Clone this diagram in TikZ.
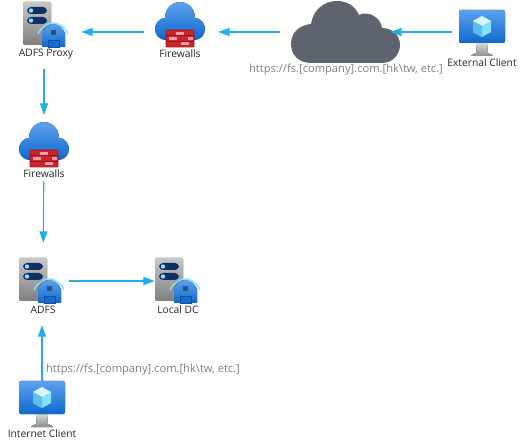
\documentclass[tikz,border=0pt]{standalone}
\usepackage{fontspec}
\setmainfont{Open Sans}
\usepackage{xcolor}
\usetikzlibrary{positioning,arrows.meta,calc}
\definecolor{wire}{HTML}{22AEE4}
\definecolor{urlgray}{HTML}{808080}
\definecolor{netgray}{HTML}{5E646E}
\definecolor{navy}{HTML}{0F2F66}
\definecolor{skyd}{HTML}{5EA0EF}
\definecolor{azure}{HTML}{0F68CC}
\definecolor{bluedark}{HTML}{1B63C4}
\definecolor{ice}{HTML}{7FE3FA}
\definecolor{brick}{HTML}{CF232B}
\definecolor{brickd}{HTML}{8E1B20}
\definecolor{brickl}{HTML}{F59AA6}
\tikzset{
  iconbox/.style 2 args={inner sep=0pt, minimum width=#1*0.75pt, minimum height=#2*0.75pt},
  icontext/.style={inner sep=0pt, font=\fontsize{7.7}{9}\selectfont, text=black!85},
  urltext/.style={inner sep=0pt, font=\fontsize{8.35}{10}\selectfont, text=urlgray},
  flow/.style={-{Triangle[length=8.5pt,width=6pt]}, line width=0.85pt, draw=wire},
  % server rack with the small barn in front, from its top left corner
  serverico/.pic={
    \fill[rounded corners=1pt, top color=black!22, bottom color=black!50] (0,0) rectangle (28,43);
    \fill[navy, rounded corners=3pt] (4,5) rectangle (24,12);
    \fill[navy, rounded corners=3pt] (4,15) rectangle (24,22);
    \fill[ice] (8,8.5) circle (2.2);
    \fill[ice] (8,18.5) circle (2.2);
    \fill[top color=skyd, bottom color=azure] (19,45) -- (19,31) .. controls (21,25) and (26,22) .. (30,22)
      .. controls (35,22) and (40,26) .. (42,31) -- (42,45) -- cycle;
    \draw[ice, line width=1pt] (15,32) .. controls (18,25) and (25,21) .. (30,21) .. controls (36,21) and (42,25) .. (45,32);
    \fill[navy!85] (28,28) rectangle (33,33);
    \draw[navy!45!azure, line width=0.4pt] (25,38) rectangle (36,45);
    \draw[navy!45!azure, line width=0.4pt] (25,38) -- (30.5,42) -- (36,38);
  },
  % blue cloud with the brick wall
  fwico/.pic={
    \fill[top color=skyd, bottom color=azure] (11,39) .. controls (5,39) and (0,34) .. (0,28)
      .. controls (0,22) and (5,17) .. (10,17) .. controls (10,8) and (17,1) .. (25,1)
      .. controls (33,1) and (40,8) .. (40,17) .. controls (45,17) and (50,22) .. (50,28)
      .. controls (50,34) and (45,39) .. (39,39) -- cycle;
    \draw[brickd, fill=brick, line width=0.7pt, rounded corners=0.5pt] (11,29) rectangle (39,46);
    \fill[brickl] (21,31) rectangle (29,34);
    \fill[brickl] (14,36) rectangle (22,39);
    \fill[brickl] (26,41) rectangle (34,44);
    \fill[brickl] (33,36) rectangle (38,39);
    \foreach \yy in {34.5,40} \draw[brickd, line width=0.4pt] (11,\yy) -- (39,\yy);
  },
  % monitor with the cube
  vmico/.pic={
    \fill[top color=black!15, bottom color=black!45] (18,33) -- (28,33) -- (29,43) .. controls (31,44) and (34,45) .. (34,46)
      -- (12,46) .. controls (12,45) and (15,44) .. (17,43) -- cycle;
    \fill[rounded corners=1.5pt, top color=skyd, bottom color=azure] (0,0) rectangle (46,33);
    \fill[ice] (23,6) -- (32,11) -- (32,22) -- (23,27) -- (14,22) -- (14,11) -- cycle;
    \fill[white!70!ice] (23,6) -- (32,11) -- (23,16) -- (14,11) -- cycle;
    \fill[ice!70!azure] (23,16) -- (23,27) -- (14,22) -- (14,11) -- cycle;
  },
  netcloud/.pic={
    \fill[netgray] (20,63) .. controls (8,63) and (0,55) .. (0,44) .. controls (0,33) and (8,25) .. (20,24)
      .. controls (22,10) and (33,1) .. (46,1) .. controls (56,1) and (64,6) .. (68,15)
      .. controls (78,10) and (90,18) .. (91,28) .. controls (101,28) and (109,35) .. (109,45)
      .. controls (109,55) and (101,63) .. (91,63) -- cycle;
  },
}
\begin{document}
\begin{tikzpicture}[x=0.75pt, y=-0.75pt]
  \useasboundingbox (0,0) rectangle (524,448);
  \pic at (23,2) {serverico};
  \pic at (155,1) {fwico};
  \pic at (291,0) {netcloud};
  \pic at (459,10) {vmico};
  \pic at (19,121) {fwico};
  \pic at (19,258) {serverico};
  \pic at (155,258) {serverico};
  \pic at (19,381) {vmico};
  \node[iconbox={74}{74}] (proxy) at (44,32) {};
  \node[iconbox={74}{74}] (fwtop) at (181,32) {};
  \node[iconbox={110}{64}] (net) at (335,32) {};
  \node[iconbox={60}{46}] (extclient) at (482,32) {};
  \node[iconbox={50}{66}] (fwleft) at (44,148) {};
  \node[iconbox={52}{82}] (adfs) at (43,284) {};
  \node[iconbox={46}{46}] (localdc) at (178,281) {};
  \node[iconbox={46}{46}] (inetclient) at (42,404) {};
  \node[icontext] (proxylbl) at (46,54) {ADFS Proxy};
  \node[icontext] (fwtoplbl) at (180,54) {Firewalls};
  \node[icontext] (extlbl) at (482,63) {External Client};
  \node[icontext] (fwleftlbl) at (44,174) {Firewalls};
  \node[icontext] (adfslbl) at (43,310) {ADFS};
  \node[icontext] (dclbl) at (178,310) {Local DC};
  \node[icontext] (inetlbl) at (42,434) {Internet Client};
  \node[urltext] (urltop) at (346,70) {https://fs.[company].com.[hk\textbackslash tw, etc.]};
  \node[urltext] (urlbot) at (143,370) {https://fs.[company].com.[hk\textbackslash tw, etc.]};
  \draw[flow] (extclient) -- (net);
  \draw[flow] (net) -- (fwtop);
  \draw[flow] (fwtop) -- (proxy);
  \draw[flow] (proxy) -- (fwleft);
  \draw[flow] (fwleft) -- (adfs);
  \draw[flow] (adfs.east |- localdc.west) -- (localdc.west);
  \draw[flow] (inetclient) -- (adfs.south -| inetclient);
\end{tikzpicture}
\end{document}
